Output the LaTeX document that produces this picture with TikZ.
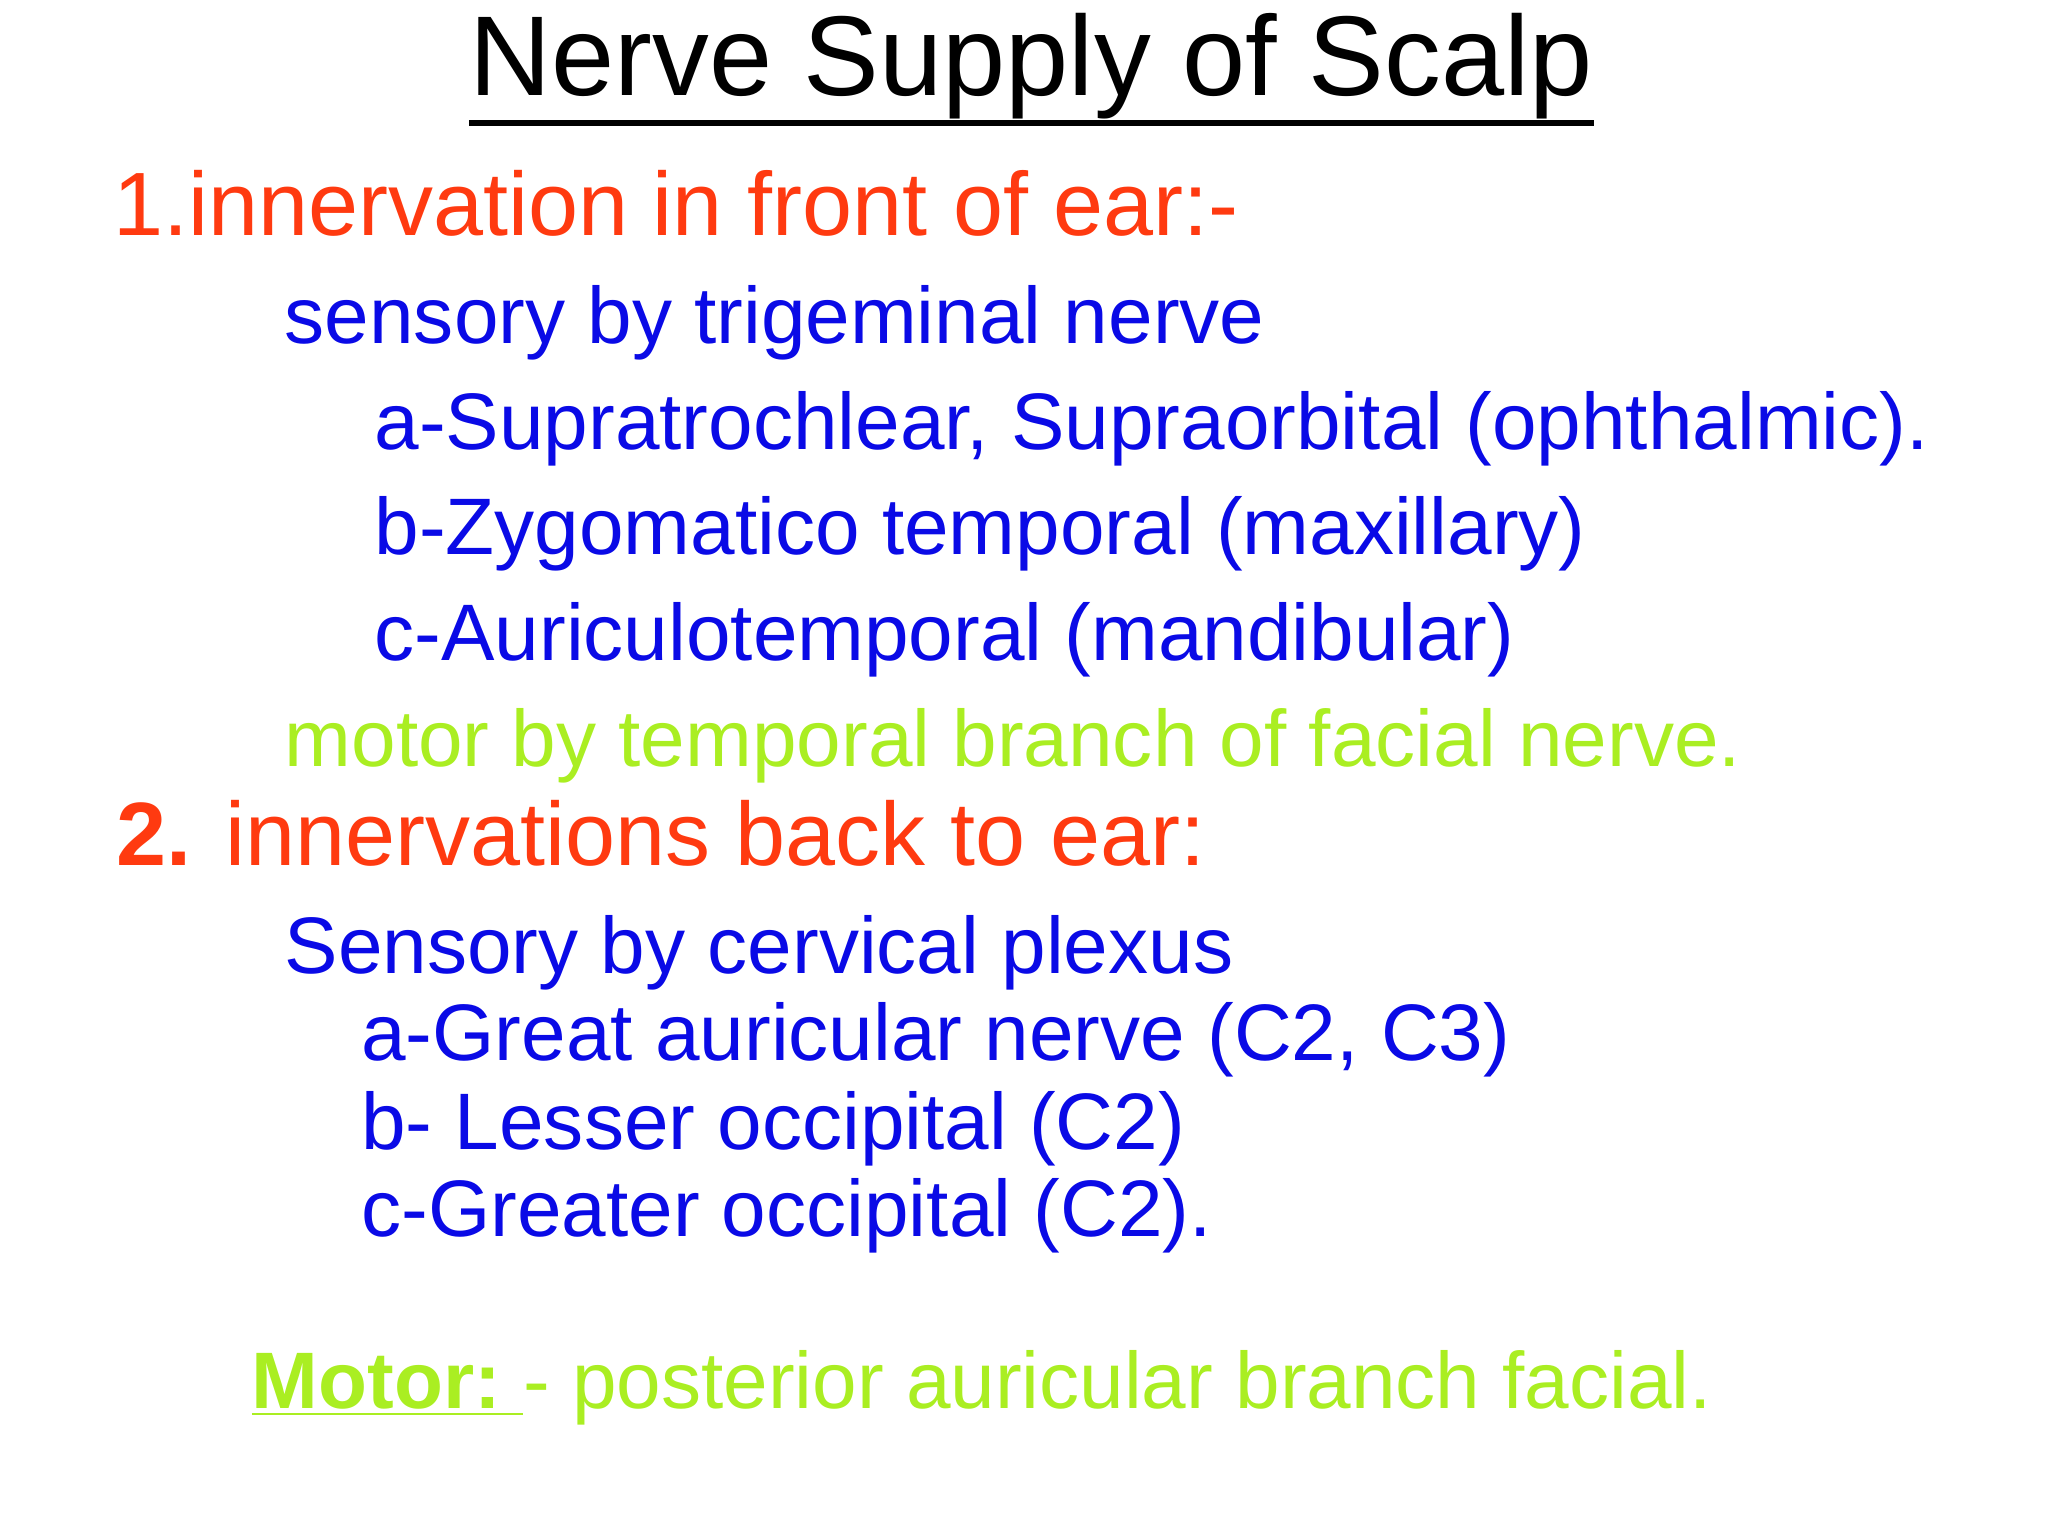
\documentclass[tikz,border=0pt]{standalone}
\usepackage{fontspec}
\setmainfont{Liberation Sans}
\usetikzlibrary{positioning}
\definecolor{headred}{HTML}{FF3A10}
\definecolor{nerveblue}{HTML}{0A0AE6}
\definecolor{motorgreen}{HTML}{AAEE22}

\begin{document}
\begin{tikzpicture}[x=0.01321cm, y=-0.01321cm]
      \tikzstyle{line} = [anchor=base west, inner sep=0pt]
      \tikzstyle{titlebox} = [line, font=\fontsize{32.3}{36}\selectfont, text=black]
      \tikzstyle{heading} = [line, font=\fontsize{25.6}{30}\selectfont, text=headred]
      \tikzstyle{sensory} = [line, font=\fontsize{22.8}{27}\selectfont, text=nerveblue]
      \tikzstyle{motor} = [line, font=\fontsize{22.8}{27}\selectfont, text=motorgreen]

      \useasboundingbox (0,0) rectangle (1550,1162);

      \node[titlebox] (title) at (355,72) {Nerve Supply of Scalp};
      \draw[line width=1.6pt] ([yshift=-8pt]title.base west) -- ([yshift=-8pt]title.base east);

      % front of ear
      \node[heading] (front) at (85,178) {1.innervation in front of ear:-};
      \node[sensory] (trig) at (215,260) {sensory by trigeminal nerve};
      \node[sensory] (supra) at (283,340) {a-Supratrochlear, Supraorbital (ophthalmic).};
      \node[sensory] (zygo) at (283,420) {b-Zygomatico temporal (maxillary)};
      \node[sensory] (auric) at (283,500) {c-Auriculotemporal (mandibular)};
      \node[motor] (temporal) at (215,580) {motor by temporal branch of facial nerve.};

      % back of ear
      \node[heading] (back) at (88,655) {\textbf{2.} innervations back to ear:};
      \node[sensory] (cerv) at (215,737) {Sensory by cervical plexus};
      \node[sensory] (great) at (273,803) {a-Great auricular nerve (C2, C3)};
      \node[sensory] (lesser) at (273,870) {b- Lesser occipital (C2)};
      \node[sensory] (greater) at (273,936) {c-Greater occipital (C2).};
      \node[motor] (post) at (190,1066) {\underline{\textbf{Motor:\ }}- posterior auricular branch facial.};
    \end{tikzpicture}
\end{document}
